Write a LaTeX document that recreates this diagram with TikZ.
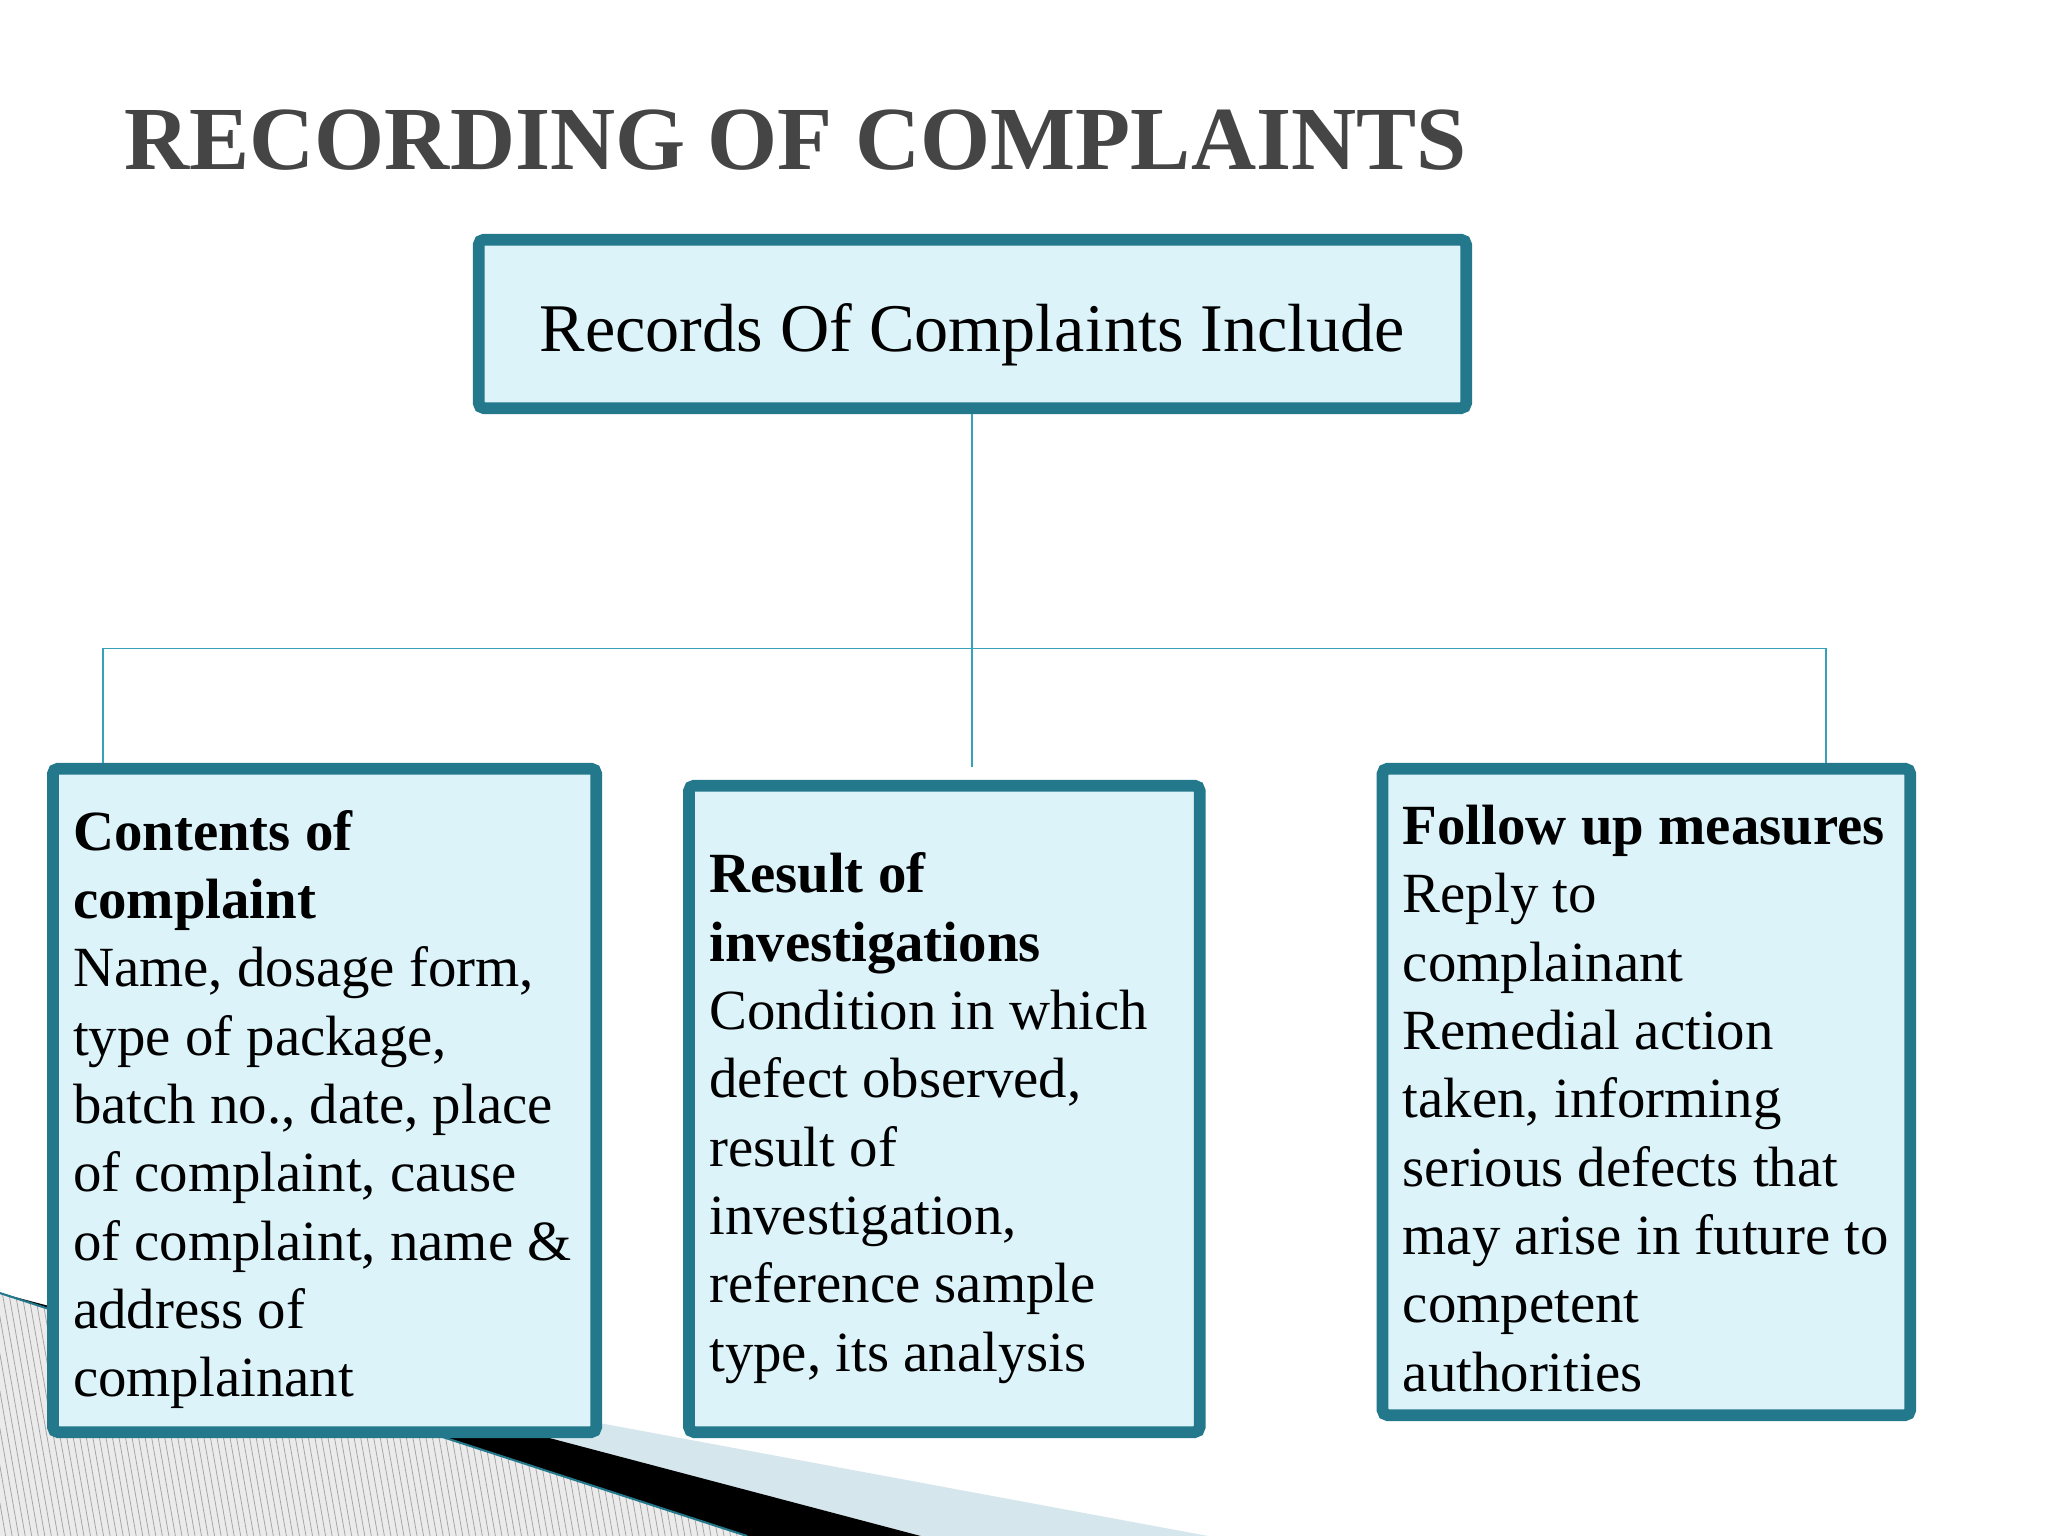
\documentclass[tikz,border=0pt]{standalone}
\usepackage{fontspec}
\setmainfont{Liberation Serif}
\definecolor{bordc}{HTML}{23788B}
\definecolor{fillc}{HTML}{DDF3FA}
\definecolor{connc}{HTML}{37A0BB}
\definecolor{titlec}{HTML}{454545}
\definecolor{bandc}{HTML}{D5E6ED}
\definecolor{grayc}{HTML}{EBEBEB}
\definecolor{hatchc}{HTML}{A5A5A5}
\tikzset{
  boxnode/.style={draw=bordc, fill=fillc, line width=4.5pt, rounded corners=2pt,
    inner sep=0pt, outer sep=2.25pt, rectangle},
  txtnode/.style={inner sep=0pt, outer sep=0pt, align=left, anchor=west,
    font=\fontsize{21.75}{26.15}\selectfont},
  conn/.style={draw=connc, line width=0.75pt},
}
\begin{document}
\begin{tikzpicture}[x=0.5pt, y=-0.5pt]
\useasboundingbox (0,0) rectangle (1568,1176);
\fill[white] (0,0) rectangle (1568,1176);
% bottom-left decoration
\fill[grayc] (0,990) -- (572,1176) -- (0,1176) -- cycle;
\begin{scope}
  \clip (0,990) -- (572,1176) -- (0,1176) -- cycle;
  \foreach \i in {-60,-55,...,600} {
    \draw[hatchc, line width=0.3pt] (\i,980) -- (\i+35,1180);
  }
\end{scope}
\fill[bandc] (440,1086) -- (925,1176) -- (705,1176) -- (400,1096) -- cycle;
\fill[black] (0,990) -- (705,1176) -- (572,1176) -- cycle;
\draw[bordc, line width=0.8pt] (0,990) -- (572,1176);
% title
\node[anchor=base west, inner sep=0pt, text=titlec,
  font=\fontsize{34.5}{40}\selectfont\bfseries] (title) at (95,130) {RECORDING OF COMPLAINTS};
% connector coordinates
\coordinate (hub) at (744.5,496.5);
\coordinate (lft) at (78.5,496.5);
\coordinate (rgt) at (1398,496.5);
\coordinate (midend) at (744.5,587);
% boxes
\node[boxnode, minimum width=378pt, minimum height=64.5pt] (top) at (744.5,248) {};
\node[boxnode, minimum width=208pt, minimum height=254pt] (b1) at (248.5,842.5) {};
\node[boxnode, minimum width=195.5pt, minimum height=247.5pt] (b2) at (723,849) {};
\node[boxnode, minimum width=202pt, minimum height=247.5pt] (b3) at (1260.5,836) {};
% connectors
\draw[conn] (top.south) -- (hub);
\draw[conn] (hub) -- (midend);
\draw[conn] (hub) -- (lft) -- (lft |- b1.north);
\draw[conn] (hub) -- (rgt) -- (rgt |- b3.north);
% texts
\node[inner sep=0pt, font=\fontsize{26.1}{30}\selectfont] (t0) at ([yshift=-4pt]top.center) {Records Of Complaints Include};
\node[txtnode] (t1) at ([xshift=10pt,yshift=-3.5pt]b1.west) {\textbf{Contents of}\\\textbf{complaint}\\Name, dosage form,\\type of package,\\batch no., date, place\\of complaint, cause\\of complaint, name \&\\address of\\complainant};
\node[txtnode] (t2) at ([xshift=10pt,yshift=-3.5pt]b2.west) {\textbf{Result of}\\\textbf{investigations}\\Condition in which\\defect observed,\\result of\\investigation,\\reference sample\\type, its analysis};
\node[txtnode] (t3) at ([xshift=10pt,yshift=-2.5pt]b3.west) {\textbf{Follow up measures}\\Reply to\\complainant\\Remedial action\\taken, informing\\serious defects that\\may arise in future to\\competent\\authorities};
\end{tikzpicture}
\end{document}
